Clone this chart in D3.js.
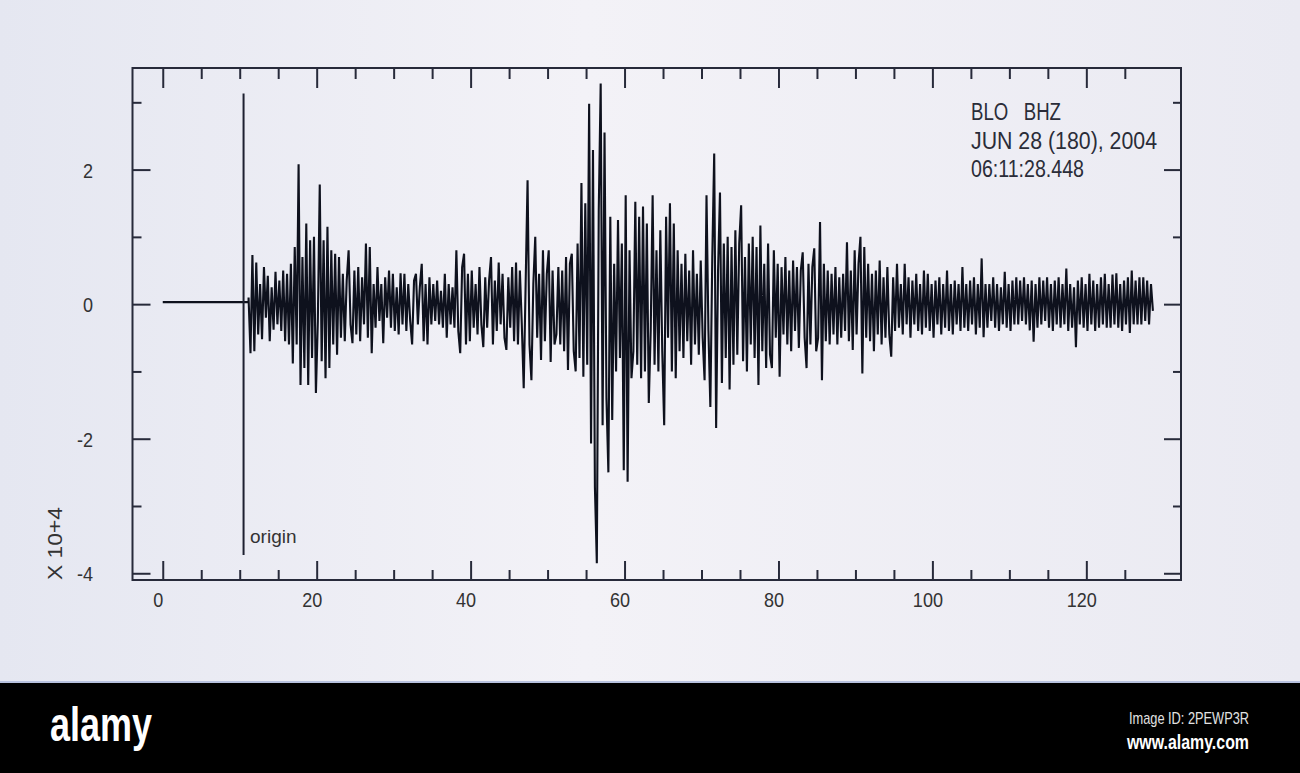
<!DOCTYPE html>
<html>
<head>
<meta charset="utf-8">
<script src="https://cdn.jsdelivr.net/npm/d3@7"></script>
<style>
  html, body { margin: 0; padding: 0; background: #000; }
  svg { display: block; }
  text { font-family: "Liberation Sans", Arial, sans-serif; white-space: pre; }
</style>
</head>
<body>
<svg id="chart" width="1300" height="773"></svg>
<script>
// BLO BHZ vertical trace, amplitude in 10^4 counts, time in seconds
var headerLines = ['BLO   BHZ', 'JUN 28 (180), 2004', '06:11:28.448'];
var headerWidths = [90, 186, 113];
var xTicks = [0, 20, 40, 60, 80, 100, 120];
var yTicks = [-4, -2, 0, 2];

// quiet part before the first arrival
var quietTimes = [0, 11.15];
var quietValues = [0.03, 0.03];

var originTime = 10.5;
var originSpan = [-3.73, 3.13];

// samples from the onset on, one every 0.25 s (one row = 4 s)
var onset = 11.15, dt = 0.25;
var amplitude = [
  0.1, -0.73, 0.73, -0.7, 0.62, -0.45, 0.3, -0.52, 0.55, -0.2, 0.42, -0.55, 0.25, -0.38, 0.48, -0.3,      // 11
  0.35, -0.4, 0.5, -0.55, 0.45, -0.6, 0.6, -0.88, 0.85, -0.6, 2.08, -1.2, 0.7, -0.95, 1.2, -1.2,          // 15
  0.95, -0.8, 1.0, -1.32, -0.25, 1.78, -0.85, 0.95, -1.1, 1.15, -0.95, 0.8, -0.6, 0.75, -0.75, 0.7,       // 19
  -0.5, 0.45, -0.55, 0.35, 0.8, -0.3, -0.58, 0.5, -0.45, 0.55, -0.55, 0.4, -0.3, 0.9, -0.5, 0.85,         // 23
  -0.73, 0.3, -0.35, 0.55, -0.25, 0.3, -0.58, 0.4, -0.2, 0.5, -0.35, 0.45, -0.4, 0.25, -0.45, 0.46,       // 27
  -0.3, 0.45, -0.4, 0.3, -0.25, -0.6, 0.35, 0.45, -0.3, 0.25, 0.6, -0.55, 0.3, -0.6, 0.4, -0.3,           // 31
  0.3, -0.25, 0.35, -0.3, 0.2, -0.35, 0.45, -0.5, 0.3, -0.3, 0.25, -0.35, 0.8, -0.4, -0.73, 0.55,         // 35
  0.75, -0.6, 0.45, -0.55, 0.5, -0.35, 0.3, -0.45, 0.55, -0.3, -0.64, 0.4, -0.35, 0.35, 0.7, -0.6,        // 39
  0.35, -0.4, 0.62, -0.3, 0.45, -0.5, -0.68, 0.4, -0.35, 0.55, -0.55, 0.62, -0.6, 0.5, -0.3, -1.25,       // 43
  0.3, 1.84, -0.6, -1.13, 0.3, 1.0, -0.5, 0.45, -0.83, 0.8, -0.55, 0.45, 0.8, -0.86, 0.5, -0.6,           // 47
  -0.45, 0.55, -0.6, 0.5, -0.7, 0.7, -0.98, 0.6, 0.75, -0.7, -1.0, 0.9, -0.8, 1.8, -1.08, 1.5,            // 51
  -0.9, 2.98, -2.07, 2.29, -2.72, -3.85, 1.4, 3.28, -1.8, 2.55, -1.4, -2.5, 1.3, -1.72, 0.6, -1.0,        // 55
  1.25, -0.8, 0.9, -2.47, 1.62, -2.64, 0.8, -1.1, -0.7, 1.52, -0.9, 1.3, -1.1, 1.45, -1.0, 1.2,           // 59
  -1.47, -0.4, 1.62, -0.9, 0.8, -1.0, 1.1, -0.7, -1.8, 1.3, -0.5, 1.5, -1.0, 1.2, -1.1, 0.8,              // 63
  -0.7, 0.6, -0.8, 0.75, -0.55, 0.5, -0.9, 0.8, -0.6, 0.45, -0.75, 0.65, -0.5, -1.13, 1.62, -0.4,         // 67
  -1.53, 0.7, 2.24, -1.84, 0.5, 1.66, -1.17, 0.9, -0.8, 1.0, -1.27, 0.85, -0.9, 1.1, -0.75, 0.9,          // 71
  1.47, -0.85, 0.7, -1.0, 0.9, -0.6, 1.0, -0.8, 0.85, -1.2, 1.17, -0.7, 0.6, -0.95, 0.9, -0.75,           // 75
  -0.95, 0.8, -0.5, 0.6, -1.08, 0.55, -0.45, 0.7, -0.6, 0.5, -0.7, 0.65, -0.4, 0.55, -0.65, 0.5,          // 79
  0.77, -0.5, -0.95, 0.6, -0.6, 0.55, 0.83, -0.7, -0.5, 1.22, -1.13, 0.6, -0.55, 0.5, -0.6, 0.45,         // 83
  -0.45, 0.55, -0.6, 0.4, -0.5, 0.45, -0.4, 0.92, -0.55, 0.5, -0.68, 0.8, -0.45, 0.6, 1.0, -1.03,         // 87
  0.85, -0.5, 0.6, -0.55, 0.45, -0.7, 0.5, -0.45, 0.65, -0.6, 0.4, -0.5, 0.55, -0.45, -0.78, 0.4,         // 91
  -0.4, 0.6, -0.35, 0.3, -0.45, 0.6, -0.3, 0.4, -0.5, 0.35, -0.3, 0.45, -0.4, 0.3, -0.45, 0.5,            // 95
  -0.35, 0.45, -0.4, 0.3, -0.5, 0.35, -0.3, 0.4, -0.45, 0.3, -0.35, 0.5, -0.4, 0.3, -0.45, 0.35,          // 99
  -0.3, 0.3, -0.4, 0.55, -0.35, 0.3, -0.4, 0.35, -0.3, 0.4, -0.45, 0.3, -0.35, 0.68, -0.49, 0.3,          // 103
  -0.35, 0.3, -0.25, 0.4, -0.35, 0.3, -0.4, 0.25, -0.3, 0.48, -0.35, 0.3, -0.4, 0.35, -0.3, 0.4,          // 107
  -0.3, 0.35, -0.25, 0.4, -0.3, 0.3, -0.39, 0.35, -0.56, 0.3, -0.35, 0.4, -0.3, 0.35, -0.25, 0.4,         // 111
  -0.35, 0.3, -0.4, 0.35, -0.3, 0.4, -0.35, 0.3, -0.3, 0.53, -0.4, 0.3, -0.35, 0.25, -0.64, 0.35,         // 115
  -0.3, 0.4, -0.35, 0.3, -0.4, 0.45, -0.3, 0.35, -0.4, 0.3, -0.35, 0.4, -0.3, 0.45, -0.35, 0.3,           // 119
  -0.35, 0.44, -0.3, 0.46, -0.35, 0.3, -0.4, 0.35, -0.3, 0.4, -0.43, 0.5, -0.3, 0.35, -0.3, 0.4,          // 123
  -0.3, 0.4, -0.25, 0.35, -0.3, 0.3, -0.1                                                                   // 127
];

var ink = '#272a3a';
var svg = d3.select('#chart');

var grad = svg.append('defs').append('linearGradient')
    .attr('id', 'screen').attr('x1', 0).attr('x2', 1).attr('y1', 0).attr('y2', 0);
grad.append('stop').attr('offset', '0%').attr('stop-color', '#e5e7f1');
grad.append('stop').attr('offset', '45%').attr('stop-color', '#f3f2f7');
grad.append('stop').attr('offset', '100%').attr('stop-color', '#eaeaf2');
svg.append('rect').attr('width', 1300).attr('height', 683).attr('fill', 'url(#screen)');

var x = d3.scaleLinear().domain([-3.93, 132.3]).range([132.5, 1181]);
var y = d3.scaleLinear().domain([-4.10, 3.51]).range([580, 68]);

var xMinor = d3.range(5, 130, 5).filter(function(d) { return d % 20; });
var yMinor = [-3, -1, 1, 3];

function axis(gen, tx, ty) {
    var g = svg.append('g').attr('transform', 'translate(' + tx + ',' + ty + ')').call(gen);
    g.select('.domain').remove();
    g.selectAll('line').attr('stroke', ink).attr('stroke-width', 2);
    return g;
}

var bottom = axis(d3.axisBottom(x).tickValues(xTicks).tickSize(-19).tickFormat(String), 0, 580);
axis(d3.axisBottom(x).tickValues(xMinor).tickSize(-10).tickFormat(''), 0, 580);
axis(d3.axisTop(x).tickValues(xTicks).tickSize(-20).tickFormat(''), 0, 68);
axis(d3.axisTop(x).tickValues(xMinor).tickSize(-11).tickFormat(''), 0, 68);
var left = axis(d3.axisLeft(y).tickValues(yTicks).tickSize(-18).tickFormat(String), 132.5, 0);
axis(d3.axisLeft(y).tickValues(yMinor).tickSize(-9).tickFormat(''), 132.5, 0);
axis(d3.axisRight(y).tickValues(yTicks).tickSize(-17).tickFormat(''), 1181, 0);
axis(d3.axisRight(y).tickValues(yMinor).tickSize(-8).tickFormat(''), 1181, 0);

bottom.selectAll('text')
    .attr('y', null).attr('dy', null)
    .attr('transform', 'translate(-5,27) scale(0.86,1)')
    .attr('fill', '#333').attr('font-size', 21).attr('text-anchor', 'middle');
left.selectAll('text')
    .attr('x', null).attr('dy', null)
    .attr('transform', 'translate(-39.5,7.5) scale(0.86,1)')
    .attr('fill', '#333').attr('font-size', 21).attr('text-anchor', 'end');

svg.append('rect')
    .attr('x', 132.5).attr('y', 68).attr('width', 1181 - 132.5).attr('height', 512)
    .attr('fill', 'none').attr('stroke', ink).attr('stroke-width', 2);

// trace
var trace = quietTimes.map(function(t, i) { return { t: t, v: quietValues[i] }; })
    .concat(amplitude.map(function(v, i) { return { t: onset + i * dt, v: v }; }));

var line = d3.line().x(function(d) { return x(d.t); }).y(function(d) { return y(d.v); });
svg.append('path').datum(trace)
    .attr('d', line)
    .attr('fill', 'none')
    .attr('stroke', '#0e111d')
    .attr('stroke-width', 2.1)
    .attr('stroke-linejoin', 'bevel');

// origin marker
svg.append('line')
    .attr('x1', x(originTime)).attr('x2', x(originTime))
    .attr('y1', y(originSpan[1])).attr('y2', y(originSpan[0]))
    .attr('stroke', '#1d2030').attr('stroke-width', 2);
svg.append('text')
    .attr('x', x(originTime) + 6.5).attr('y', 543)
    .attr('font-size', 19).attr('fill', '#333')
    .text('origin');

// header
svg.selectAll('.hdr').data(headerLines).enter().append('text')
    .attr('class', 'hdr')
    .attr('x', 971)
    .attr('y', function(d, i) { return 120 + i * 28.7; })
    .attr('font-size', 23)
    .attr('fill', '#2a2c38')
    .attr('textLength', function(d, i) { return headerWidths[i]; })
    .attr('lengthAdjust', 'spacingAndGlyphs')
    .text(function(d) { return d; });

svg.append('text')
    .attr('transform', 'translate(61.7,580) rotate(-90)')
    .attr('font-size', 21).attr('fill', '#333')
    .attr('textLength', 73).attr('lengthAdjust', 'spacingAndGlyphs')
    .text('X 10+4');

// photo credit bar
svg.append('rect').attr('y', 683).attr('width', 1300).attr('height', 90).attr('fill', '#000');
svg.append('rect').attr('y', 681).attr('width', 1300).attr('height', 2).attr('fill', '#b8c2df');
svg.append('text')
    .attr('x', 50).attr('y', 741)
    .attr('font-size', 48).attr('font-weight', 'bold').attr('fill', '#fff')
    .attr('textLength', 102).attr('lengthAdjust', 'spacingAndGlyphs')
    .text('alamy');
svg.append('text')
    .attr('x', 1249).attr('y', 724).attr('text-anchor', 'end')
    .attr('font-size', 17).attr('fill', '#e2e2e2')
    .attr('textLength', 120).attr('lengthAdjust', 'spacingAndGlyphs')
    .text('Image ID: 2PEWP3R');
svg.append('text')
    .attr('x', 1249).attr('y', 749).attr('text-anchor', 'end')
    .attr('font-size', 20).attr('font-weight', 'bold').attr('fill', '#fff')
    .attr('textLength', 122).attr('lengthAdjust', 'spacingAndGlyphs')
    .text('www.alamy.com');
</script>
</body>
</html>
